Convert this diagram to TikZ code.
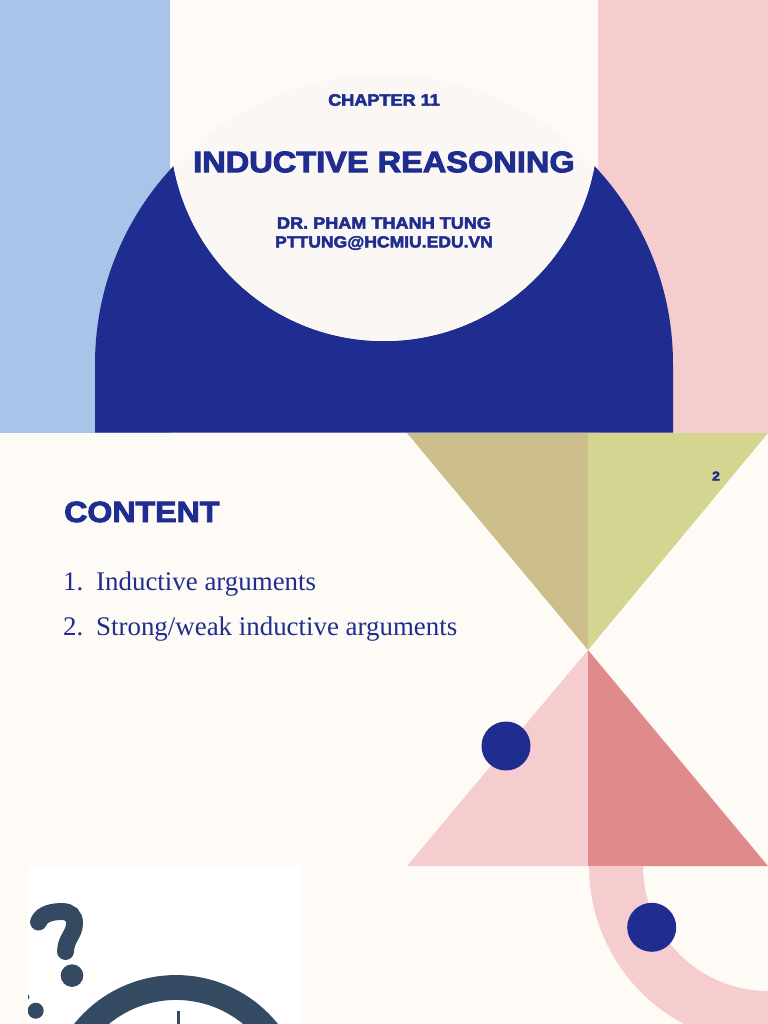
\documentclass[tikz,border=0pt]{standalone}
\usepackage{fontspec}
\setmainfont{Liberation Serif}
\newfontfamily\blackf[UprightFont=* Bold,FakeBold=3.2,FakeStretch=1.1]{Liberation Sans}
\definecolor{navy}{HTML}{1E2D8F}
\definecolor{sky}{HTML}{A9C4E8}
\definecolor{rose}{HTML}{F6CDCF}
\definecolor{cream}{HTML}{FEFAF5}
\definecolor{creamb}{HTML}{FBF7F4}
\definecolor{khaki}{HTML}{CBBE8A}
\definecolor{lime}{HTML}{D3D591}
\definecolor{coral}{HTML}{DF8B8C}
\definecolor{slate}{HTML}{344A63}
\tikzset{
  head/.style={text=navy,font=\blackf,inner sep=0pt,anchor=center},
  body/.style={text=navy,inner sep=0pt,anchor=base west,font=\fontsize{27}{30}\selectfont},
  dotb/.style={fill=navy,draw=none},
}
\begin{document}
\begin{tikzpicture}[x=1bp,y=-1bp]
\useasboundingbox (0,0) rectangle (768,1024);
% page backgrounds
\fill[cream] (0,0) rectangle (768,1024);
% slide 1
\fill[sky] (0,0) rectangle (170,432.5);
\fill[rose] (598,0) rectangle (768,432.5);
\fill[navy] (95,432.5) -- (95,364) arc[start angle=180,end angle=360,radius=289] -- (673,432.5) -- cycle;
\fill[cream] (170,0) -- (170,127) arc[start angle=180,end angle=0,radius=214] -- (598,0) -- cycle;
\begin{scope}
\clip (95,432.5) -- (95,364) arc[start angle=180,end angle=360,radius=289] -- (673,432.5) -- cycle;
\fill[creamb] (170,0) -- (170,127) arc[start angle=180,end angle=0,radius=214] -- (598,0) -- cycle;
\end{scope}
\node[head,font=\blackf\fontsize{16.5}{18}\selectfont] (chap) at (384,100) {CHAPTER 11};
\node[head,font=\blackf\fontsize{29.7}{32}\selectfont] (title) at (384,162) {INDUCTIVE REASONING};
\node[head,font=\blackf\fontsize{16.5}{18}\selectfont] (auth) at (384,223) {DR. PHAM THANH TUNG};
\node[head,font=\blackf\fontsize{16}{18}\selectfont] (mail) at (384,243) {PTTUNG@HCMIU.EDU.VN};
% slide 2
\fill[khaki] (407,433) -- (588,433) -- (588,650) -- cycle;
\fill[lime] (588,433) -- (768,433) -- (588,650) -- cycle;
\fill[rose] (407,866) -- (588,650) -- (588,866) -- cycle;
\fill[coral] (588,650) -- (768,866) -- (588,866) -- cycle;
\fill[dotb] (506,746) circle[radius=24.5];
\node[head,font=\blackf\fontsize{13}{14}\selectfont] (pg) at (716,476) {2};
\node[head,anchor=base west,font=\blackf\fontsize{29.3}{30}\selectfont] (cont) at (64,522) {CONTENT};
\node[body] (n1) at (63,590) {1.};
\node[body] (t1) at (96,590) {Inductive arguments};
\node[body] (n2) at (63,635) {2.};
\node[body] (t2) at (96,635) {Strong/weak inductive arguments};
% slide 3
\fill[white] (28,865.5) rectangle (301,1024);
\fill[rose] (589,866) arc[start angle=180,end angle=90+27.9,radius=179] -- (768,1024) -- (768,991) arc[start angle=90,end angle=180,radius=125] -- cycle;
\fill[dotb] (651.7,927.3) circle[radius=24.5];
\begin{scope}
\clip (28,865.5) rectangle (301,1024);
\draw[slate,line width=25] (176,1105.7) circle[radius=118.2];
\fill[slate] (177.3,1011) rectangle (179.7,1024);
\draw[slate,line width=17,line cap=round] (38.5,922) .. controls (42,913) and (54,911.5) .. (62,911.5) .. controls (70,911.5) and (75,916) .. (74.5,924) .. controls (74,935) and (66,938) .. (65.5,951.5);
\fill[slate] (72,975.6) circle[radius=11.3];
\fill[slate] (35.7,1010.7) circle[radius=8];
\fill[slate] (27,997) circle[radius=2.5];
\end{scope}
\end{tikzpicture}
\end{document}
